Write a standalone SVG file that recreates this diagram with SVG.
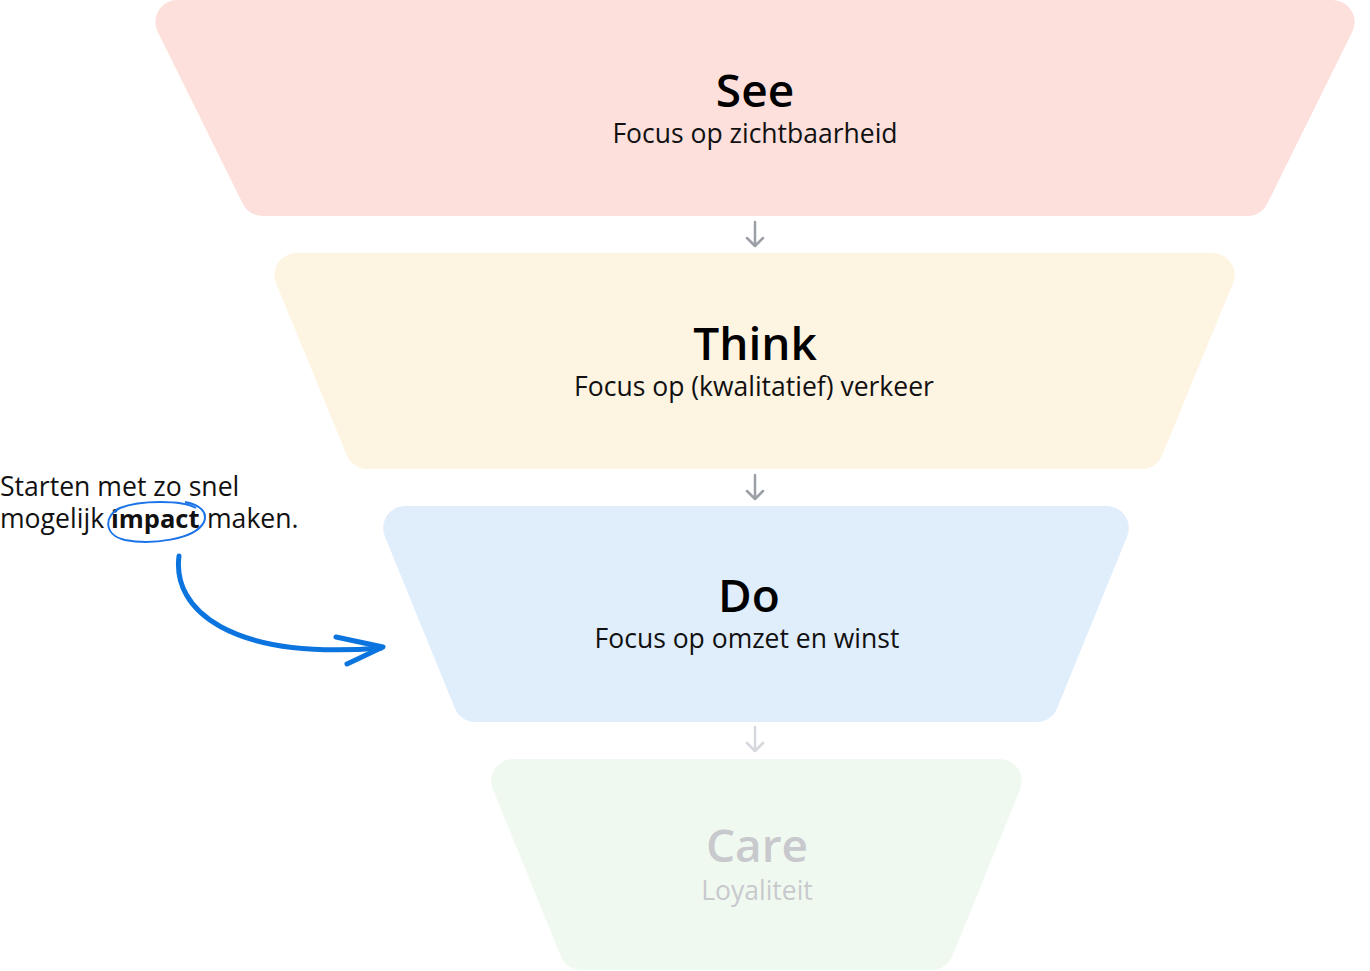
<svg xmlns="http://www.w3.org/2000/svg" width="1370" height="971" viewBox="0 0 1370 971">
<style>
.stage{stroke-width:44;stroke-linejoin:round}
.title{font-family:"Open Sans","Liberation Sans",sans-serif;font-weight:600;font-size:46px;text-anchor:middle;fill:#000}
.sub{font-family:"Open Sans","Liberation Sans",sans-serif;font-size:26.5px;text-anchor:middle;fill:#111}
.note{font-family:"Open Sans","Liberation Sans",sans-serif;font-size:26.6px;fill:#111}
.flow{fill:none;stroke:#9aa0a6;stroke-width:2.5;stroke-linecap:round;stroke-linejoin:round}
</style>
<rect width="1370" height="971" fill="#fff"/>
<g id="see">
<polygon class="stage" fill="#fde0dc" stroke="#fde0dc" points="177.4,22 1332.6,22 1247.5,194 262.5,194"/>
<text class="title" x="755" y="107">See</text>
<text class="sub" x="755" y="143">Focus op zichtbaarheid</text>
</g>
<g id="think">
<polygon class="stage" fill="#fef4e2" stroke="#fef4e2" points="296.4,275 1212.6,275 1141.8,447 367.2,447"/>
<text class="title" x="755" y="360">Think</text>
<text class="sub" x="754" y="396">Focus op (kwalitatief) verkeer</text>
</g>
<g id="do">
<polygon class="stage" fill="#e0edfb" stroke="#e0edfb" points="405.2,528 1106.8,528 1036.8,700 475.2,700"/>
<text class="title" x="749" y="612">Do</text>
<text class="sub" x="747" y="648">Focus op omzet en winst</text>
</g>
<g id="care">
<polygon class="stage" fill="#f0f9f0" stroke="#f0f9f0" points="513.2,781 999.8,781 931.9,948 581.1,948"/>
<text class="title" x="757" y="862" style="fill:#c8c9cd">Care</text>
<text class="sub" x="757" y="900" style="fill:#c8c9cd">Loyaliteit</text>
</g>
<g id="annotation">
<text class="note" x="0" y="496">Starten met zo snel</text>
<text class="note" x="0" y="528">mogelijk<tspan x="111" font-weight="700" font-size="25.5">impact</tspan><tspan x="207">maken.</tspan></text>
<path d="M196,508 C182,500 140,500 120,508 C104,515 103,535 125,540 C150,545 195,540 204,522 C208,512 200,505 185,502" fill="none" stroke="#1a73e8" stroke-width="2"/>
</g>
<g id="connectors">
<path class="flow" d="M755,222 V246 M747,238 L755,246 L763,238"/>
<path class="flow" d="M755,475 V499 M747,491 L755,499 L763,491"/>
<path class="flow" d="M755,727 V751 M747,743 L755,751 L763,743" style="stroke:#d5d9de"/>
<path d="M179,556 C172,610 230,660 381,648" fill="none" stroke="#0b74de" stroke-width="5" stroke-linecap="round"/>
<path d="M336,637 L383,647 L347,664" fill="none" stroke="#0b74de" stroke-width="5" stroke-linecap="round" stroke-linejoin="round"/>
</g>
</svg>
